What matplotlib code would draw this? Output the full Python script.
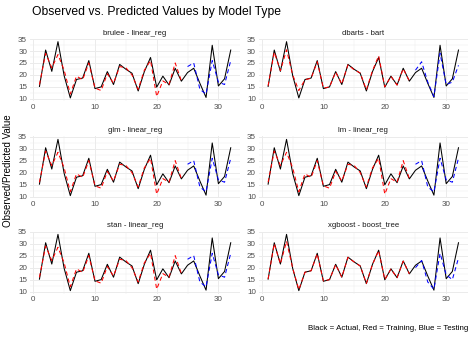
import numpy as np
import matplotlib
matplotlib.use("Agg")
import matplotlib.pyplot as plt
from matplotlib.ticker import MultipleLocator

plt.rcParams['font.family'] = ['Liberation Sans', 'DejaVu Sans']

idx = list(range(1, 33))
actual = [15.2, 30.4, 21.5, 33.9, 19.7, 10.4, 18.1, 18.7, 26.0, 14.3, 15.0, 21.4,
          16.0, 24.4, 22.4, 20.7, 13.3, 21.4, 27.3, 14.9, 19.5, 15.8, 22.8, 17.4,
          21.0, 22.8, 16.5, 10.6, 32.4, 15.4, 18.4, 30.4]
n_train = 24

models = ["brulee - linear_reg", "dbarts - bart", "glm - linear_reg",
          "lm - linear_reg", "stan - linear_reg", "xgboost - boost_tree"]

linear_pred = [16.0, 29.0, 23.0, 28.5, 22.0, 12.0, 19.5, 18.0, 25.0, 14.5, 13.5, 20.5,
               16.5, 23.5, 23.0, 20.0, 14.0, 22.0, 26.0, 11.0, 17.5, 16.0, 25.0, 17.5,
               23.5, 25.0, 14.0, 12.0, 26.0, 17.0, 16.0, 26.0]
bart_pred = [15.5, 29.5, 21.8, 30.5, 20.0, 13.5, 18.0, 18.6, 25.5, 14.5, 15.0, 21.2,
             16.2, 24.2, 22.2, 20.8, 13.8, 21.8, 28.0, 15.0, 19.4, 15.8, 22.6, 17.5,
             22.0, 25.5, 17.0, 11.0, 29.0, 16.0, 17.0, 24.0]
xgb_pred = [15.3, 30.0, 21.6, 31.0, 19.8, 10.8, 18.1, 18.7, 25.8, 14.4, 15.0, 21.3,
            16.0, 24.3, 22.4, 20.7, 13.4, 21.4, 27.1, 15.0, 19.4, 15.8, 22.7, 17.4,
            20.0, 23.0, 14.0, 11.0, 26.0, 17.0, 15.0, 24.0]
preds = [linear_pred, bart_pred, linear_pred, linear_pred, linear_pred, xgb_pred]

W, H = 474, 338
fig = plt.figure(figsize=(W / 100, H / 100), dpi=100)

col_left = [29.9, 258.6]
col_w = [210.4, 209.4]
row_top = [38.8, 136.5, 231.5]
ph = 62

grid_c = "#EBEBEB"
tick_c = "#4D4D4D"

for i, name in enumerate(models):
    r, c = divmod(i, 2)
    ax = fig.add_axes([col_left[c] / W, 1 - (row_top[r] + ph) / H, col_w[c] / W, ph / H])
    ax.plot(idx, actual, color="black", lw=0.75, zorder=3)
    p = preds[i]
    ax.plot(idx[:n_train], p[:n_train], color="red", lw=0.75, ls=(0, (4, 3)), zorder=4)
    ax.plot(idx[n_train:], p[n_train:], color="blue", lw=0.75, ls=(0, (4, 3)), zorder=4)
    ax.set_xlim(-0.55, 33.55)
    ax.set_ylim(9.2, 35.1)
    ax.xaxis.set_major_locator(MultipleLocator(10))
    ax.xaxis.set_minor_locator(MultipleLocator(5))
    ax.yaxis.set_major_locator(MultipleLocator(5))
    ax.yaxis.set_minor_locator(MultipleLocator(2.5))
    ax.grid(True, which="major", color=grid_c, lw=0.7)
    ax.grid(True, which="minor", color=grid_c, lw=0.35)
    ax.set_axisbelow(True)
    for s in ax.spines.values():
        s.set_visible(False)
    ax.tick_params(which="both", length=0, labelsize=5.8, colors=tick_c, pad=2)
    ax.set_title(name, fontsize=5.6, color="#1A1A1A", pad=3)

fig.text(32 / W, 1 - 12 / H, "Observed vs. Predicted Values by Model Type",
         fontsize=8.7, ha="left", va="center")
fig.text(8 / W, 1 - 171 / H, "Observed/Predicted Value", fontsize=7,
         rotation=90, ha="center", va="center")
fig.text(468 / W, 1 - 329 / H, "Black = Actual, Red = Training, Blue = Testing",
         fontsize=5.7, ha="right", va="center")

fig.savefig("out.png", dpi=100)
